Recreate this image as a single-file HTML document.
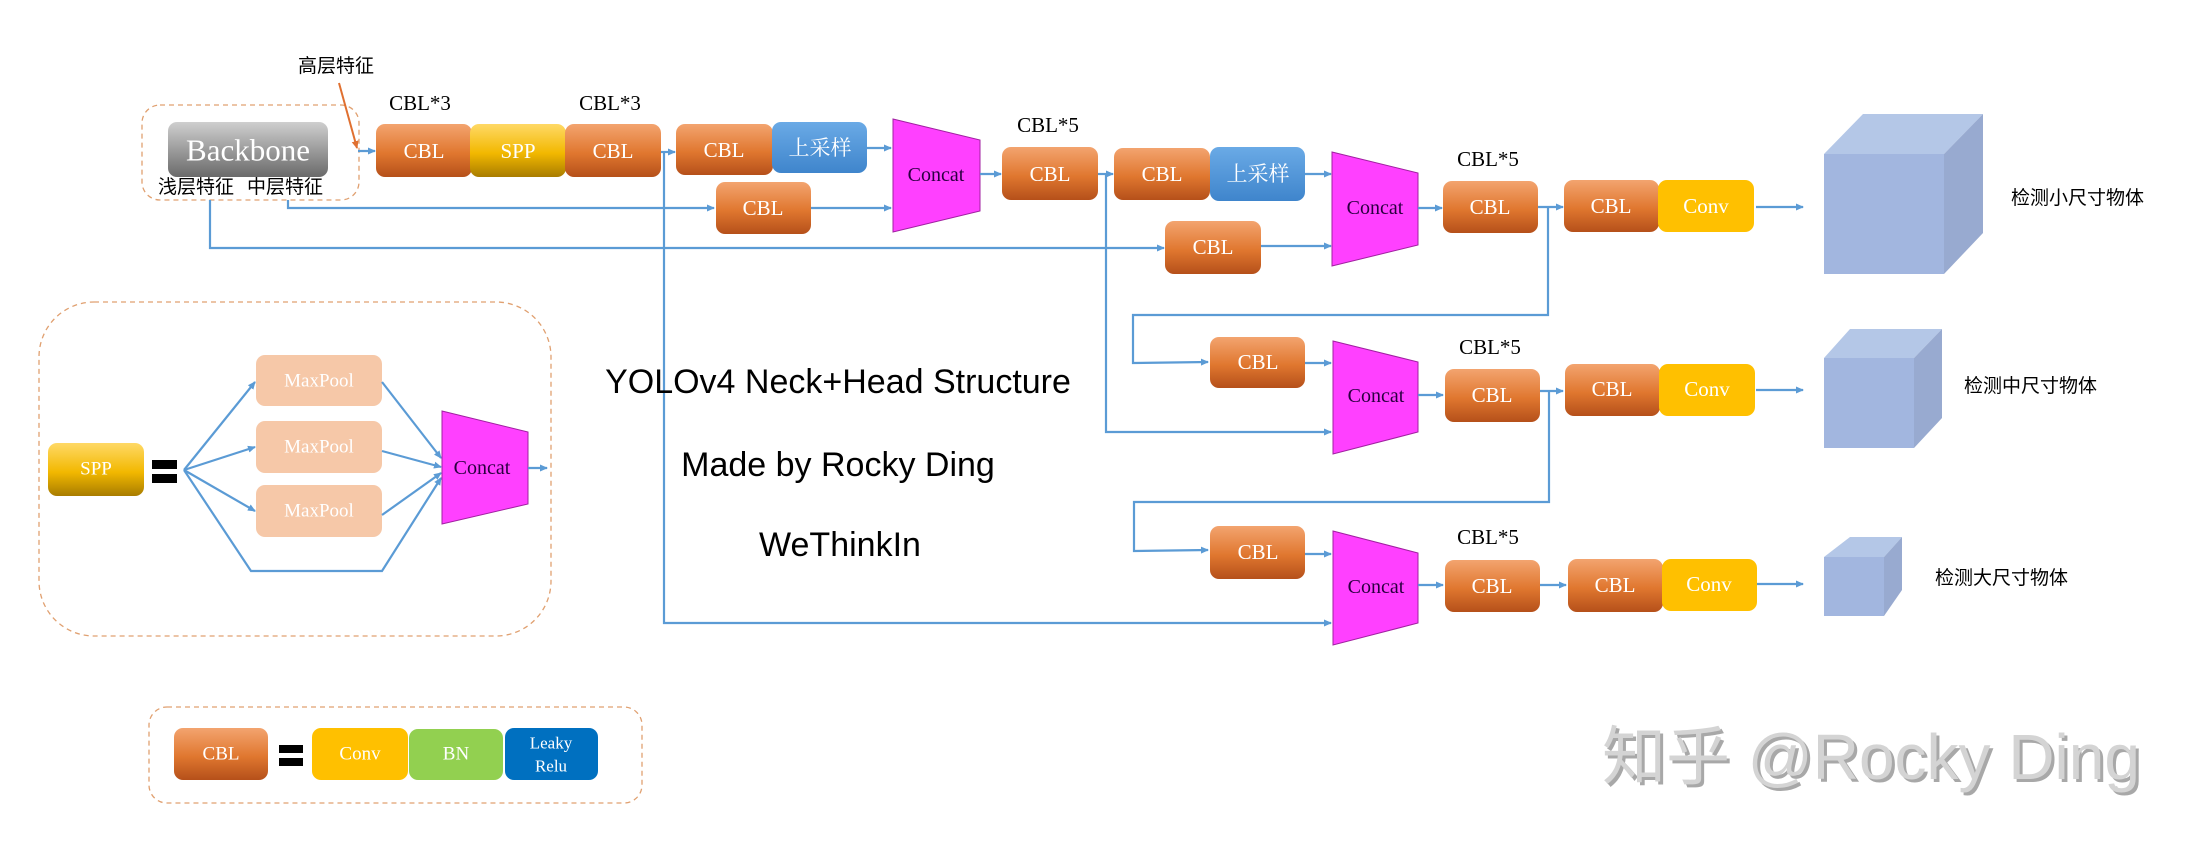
<!DOCTYPE html>
<html><head><meta charset="utf-8"><style>
html,body{margin:0;padding:0;background:#fff;}
svg{display:block;}
.b{font-family:"Liberation Serif","Noto Serif CJK SC",serif;fill:#fff;text-anchor:middle;dominant-baseline:central;}
.k{font-family:"Liberation Serif",serif;fill:#000;text-anchor:middle;font-size:21px;}
.cn{font-family:"Liberation Sans","Noto Sans CJK SC",sans-serif;fill:#000;font-size:19px;}
.t{font-family:"Liberation Sans",sans-serif;fill:#000;text-anchor:middle;font-size:34px;}
.ln{stroke:#5b9bd5;stroke-width:2.2;fill:none;}
.ar{stroke:#5b9bd5;stroke-width:2.2;fill:none;marker-end:url(#ah);}
.cc{fill:#ff40ff;stroke:#a020a0;stroke-width:1;}
.ct{font-family:"Liberation Serif",serif;fill:#2a0040;text-anchor:middle;dominant-baseline:central;font-size:20px;}
</style></head><body>
<svg width="2208" height="854" viewBox="0 0 2208 854" xmlns="http://www.w3.org/2000/svg">
<defs>
<marker id="ah" markerWidth="8" markerHeight="8" refX="7" refY="4" orient="auto" markerUnits="userSpaceOnUse"><path d="M0,0.5 L8,4 L0,7.5 z" fill="#5b9bd5"/></marker>
<marker id="ao" markerWidth="8" markerHeight="8" refX="7" refY="4" orient="auto" markerUnits="userSpaceOnUse"><path d="M0,0.5 L8,4 L0,7.5 z" fill="#e07030"/></marker>
<linearGradient id="go" x1="0" y1="0" x2="0" y2="1"><stop offset="0" stop-color="#f3a46f"/><stop offset="0.55" stop-color="#e0772f"/><stop offset="1" stop-color="#b5501a"/></linearGradient>
<linearGradient id="gy" x1="0" y1="0" x2="0" y2="1"><stop offset="0" stop-color="#ffd966"/><stop offset="0.55" stop-color="#f2b800"/><stop offset="1" stop-color="#a87c00"/></linearGradient>
<linearGradient id="gg" x1="0" y1="0" x2="0" y2="1"><stop offset="0" stop-color="#cfcfcf"/><stop offset="1" stop-color="#6a6a6a"/></linearGradient>
<linearGradient id="gb" x1="0" y1="0" x2="0" y2="1"><stop offset="0" stop-color="#6aaae6"/><stop offset="1" stop-color="#3f85cc"/></linearGradient>
</defs>

<!-- Backbone -->
<rect x="142" y="105" width="217" height="95" rx="18" fill="none" stroke="#e0a070" stroke-width="1.3" stroke-dasharray="5,4"/>
<rect x="168" y="122" width="160" height="55" rx="9" fill="url(#gg)"/>
<text class="b" x="248" y="150" font-size="31">Backbone</text>
<text class="cn" x="158" y="193">浅层特征</text>
<text class="cn" x="247" y="193">中层特征</text>
<text class="cn" x="298" y="72">高层特征</text>
<line x1="339" y1="83" x2="357" y2="148" stroke="#e07030" stroke-width="2" marker-end="url(#ao)"/>

<!-- row 1 -->
<line class="ar" x1="358" y1="151" x2="375" y2="151"/>
<text class="k" x="420" y="110">CBL*3</text>
<text class="k" x="610" y="110">CBL*3</text>
<rect x="376" y="124" width="96" height="53" rx="9" fill="url(#go)"/><text class="b" x="424" y="151" font-size="21">CBL</text>
<rect x="470" y="124" width="96" height="53" rx="9" fill="url(#gy)"/><text class="b" x="518" y="151" font-size="21">SPP</text>
<rect x="565" y="124" width="96" height="53" rx="9" fill="url(#go)"/><text class="b" x="613" y="151" font-size="21">CBL</text>
<line class="ar" x1="661" y1="152" x2="675" y2="152"/>
<rect x="676" y="124" width="97" height="51" rx="9" fill="url(#go)"/><text class="b" x="724" y="150" font-size="21">CBL</text>
<rect x="772" y="122" width="95" height="51" rx="9" fill="url(#gb)"/><text class="b" x="820" y="148" font-size="21">上采样</text>
<line class="ar" x1="867" y1="148" x2="891" y2="148"/>
<polygon class="cc" points="893,119 980,140 980,211 893,232"/><text class="ct" x="936" y="175">Concat</text>
<rect x="716" y="182" width="95" height="52" rx="9" fill="url(#go)"/><text class="b" x="763" y="208" font-size="21">CBL</text>
<line class="ar" x1="811" y1="208" x2="891" y2="208"/>
<polyline class="ar" points="288,200 288,208 714,208"/>
<polyline class="ar" points="210,200 210,248 1164,248"/>
<line class="ar" x1="980" y1="174" x2="1001" y2="174"/>
<text class="k" x="1048" y="132">CBL*5</text>
<rect x="1002" y="147" width="96" height="53" rx="9" fill="url(#go)"/><text class="b" x="1050" y="174" font-size="21">CBL</text>
<line class="ar" x1="1098" y1="174" x2="1113" y2="174"/>
<rect x="1114" y="148" width="96" height="52" rx="9" fill="url(#go)"/><text class="b" x="1162" y="174" font-size="21">CBL</text>
<rect x="1210" y="147" width="95" height="54" rx="9" fill="url(#gb)"/><text class="b" x="1258" y="174" font-size="21">上采样</text>
<line class="ar" x1="1305" y1="174" x2="1331" y2="174"/>
<rect x="1165" y="221" width="96" height="53" rx="9" fill="url(#go)"/><text class="b" x="1213" y="247" font-size="21">CBL</text>
<line class="ar" x1="1261" y1="246" x2="1331" y2="246"/>
<polygon class="cc" points="1332,152 1418,173 1418,245 1332,266"/><text class="ct" x="1375" y="208">Concat</text>
<line class="ar" x1="1418" y1="208" x2="1442" y2="208"/>
<text class="k" x="1488" y="166">CBL*5</text>
<rect x="1443" y="181" width="95" height="52" rx="9" fill="url(#go)"/><text class="b" x="1490" y="207" font-size="21">CBL</text>
<line class="ar" x1="1538" y1="207" x2="1563" y2="207"/>
<rect x="1564" y="180" width="95" height="52" rx="9" fill="url(#go)"/><text class="b" x="1611" y="206" font-size="21">CBL</text>
<rect x="1658" y="180" width="96" height="52" rx="9" fill="#ffc000"/><text class="b" x="1706" y="206" font-size="21">Conv</text>
<line class="ar" x1="1756" y1="207" x2="1803" y2="207"/>
<polygon points="1824,154 1863,114 1983,114 1944,154" fill="#b4c7e7"/>
<polygon points="1944,154 1983,114 1983,233 1944,274" fill="#98aad0"/>
<rect x="1824" y="154" width="120" height="120" fill="#a2b6df"/>
<text class="cn" x="2011" y="204">检测小尺寸物体</text>

<!-- long vertical lines -->
<polyline class="ar" points="664,152 664,623 1331,623"/>
<polyline class="ar" points="1106,174 1106,432 1331,432"/>
<polyline class="ar" points="1548,207 1548,315 1133,315 1133,363 1208,362"/>

<!-- row 2 -->
<rect x="1210" y="337" width="95" height="51" rx="9" fill="url(#go)"/><text class="b" x="1258" y="362" font-size="21">CBL</text>
<line class="ar" x1="1305" y1="363" x2="1331" y2="363"/>
<polygon class="cc" points="1333,341 1418,362 1418,432 1333,454"/><text class="ct" x="1376" y="396">Concat</text>
<line class="ar" x1="1418" y1="395" x2="1443" y2="395"/>
<text class="k" x="1490" y="354">CBL*5</text>
<rect x="1445" y="369" width="95" height="53" rx="9" fill="url(#go)"/><text class="b" x="1492" y="395" font-size="21">CBL</text>
<line class="ar" x1="1540" y1="391" x2="1563" y2="391"/>
<rect x="1565" y="364" width="95" height="52" rx="9" fill="url(#go)"/><text class="b" x="1612" y="389" font-size="21">CBL</text>
<rect x="1659" y="364" width="96" height="52" rx="9" fill="#ffc000"/><text class="b" x="1707" y="389" font-size="21">Conv</text>
<line class="ar" x1="1756" y1="390" x2="1803" y2="390"/>
<polygon points="1824,358 1850,329 1942,329 1914,358" fill="#b4c7e7"/>
<polygon points="1914,358 1942,329 1942,418 1914,448" fill="#98aad0"/>
<rect x="1824" y="358" width="90" height="90" fill="#a2b6df"/>
<text class="cn" x="1964" y="392">检测中尺寸物体</text>
<polyline class="ar" points="1549,391 1549,502 1134,502 1134,551 1208,550"/>

<!-- row 3 -->
<rect x="1210" y="526" width="95" height="53" rx="9" fill="url(#go)"/><text class="b" x="1258" y="552" font-size="21">CBL</text>
<line class="ar" x1="1305" y1="554" x2="1331" y2="554"/>
<polygon class="cc" points="1333,531 1418,553 1418,623 1333,645"/><text class="ct" x="1376" y="587">Concat</text>
<line class="ar" x1="1418" y1="585" x2="1443" y2="585"/>
<text class="k" x="1488" y="544">CBL*5</text>
<rect x="1445" y="560" width="95" height="52" rx="9" fill="url(#go)"/><text class="b" x="1492" y="586" font-size="21">CBL</text>
<line class="ar" x1="1540" y1="585" x2="1566" y2="585"/>
<rect x="1568" y="559" width="95" height="53" rx="9" fill="url(#go)"/><text class="b" x="1615" y="585" font-size="21">CBL</text>
<rect x="1662" y="559" width="95" height="52" rx="9" fill="#ffc000"/><text class="b" x="1709" y="584" font-size="21">Conv</text>
<line class="ar" x1="1757" y1="584" x2="1803" y2="584"/>
<polygon points="1824,557 1850,537 1902,537 1884,557" fill="#b4c7e7"/>
<polygon points="1884,557 1902,537 1902,590 1884,616" fill="#98aad0"/>
<rect x="1824" y="557" width="60" height="59" fill="#a2b6df"/>
<text class="cn" x="1935" y="584">检测大尺寸物体</text>

<!-- titles -->
<text class="t" x="838" y="393">YOLOv4 Neck+Head Structure</text>
<text class="t" x="838" y="476">Made by Rocky Ding</text>
<text class="t" x="840" y="556">WeThinkIn</text>

<!-- SPP detail -->
<rect x="39" y="302" width="512" height="334" rx="55" fill="none" stroke="#e0a070" stroke-width="1.3" stroke-dasharray="5,4"/>
<rect x="48" y="443" width="96" height="53" rx="9" fill="url(#gy)"/><text class="b" x="96" y="469" font-size="19">SPP</text>
<rect x="152" y="460" width="25" height="9" fill="#000"/><rect x="152" y="474" width="25" height="9" fill="#000"/>
<rect x="256" y="355" width="126" height="51" rx="9" fill="#f6c8a8"/><text class="b" x="319" y="381" font-size="19">MaxPool</text>
<rect x="256" y="421" width="126" height="52" rx="9" fill="#f6c8a8"/><text class="b" x="319" y="447" font-size="19">MaxPool</text>
<rect x="256" y="485" width="126" height="52" rx="9" fill="#f6c8a8"/><text class="b" x="319" y="511" font-size="19">MaxPool</text>
<line class="ar" x1="184" y1="470" x2="255" y2="382"/>
<line class="ar" x1="184" y1="470" x2="255" y2="447"/>
<line class="ar" x1="184" y1="470" x2="255" y2="511"/>
<polyline class="ar" points="184,470 251,571 382,571 441,478"/>
<line class="ar" x1="382" y1="382" x2="441" y2="458"/>
<line class="ar" x1="382" y1="451" x2="441" y2="467"/>
<line class="ar" x1="382" y1="515" x2="441" y2="473"/>
<polygon class="cc" points="442,411 528,432 528,504 442,524"/><text class="ct" x="482" y="468">Concat</text>
<line class="ar" x1="528" y1="468" x2="547" y2="468"/>

<!-- CBL legend -->
<rect x="149" y="707" width="493" height="96" rx="18" fill="none" stroke="#e0a070" stroke-width="1.3" stroke-dasharray="5,4"/>
<rect x="174" y="728" width="94" height="52" rx="9" fill="url(#go)"/><text class="b" x="221" y="754" font-size="19">CBL</text>
<rect x="279" y="745" width="24" height="8" fill="#000"/><rect x="279" y="758" width="24" height="8" fill="#000"/>
<rect x="312" y="728" width="96" height="52" rx="9" fill="#ffc000"/><text class="b" x="360" y="754" font-size="19">Conv</text>
<rect x="409" y="729" width="94" height="51" rx="9" fill="#92d050"/><text class="b" x="456" y="754" font-size="19">BN</text>
<rect x="505" y="728" width="93" height="52" rx="9" fill="#0070c0"/>
<text class="b" x="551" y="743" font-size="17">Leaky</text><text class="b" x="551" y="766" font-size="17">Relu</text>

<!-- watermark -->
<g font-family="Liberation Sans,Noto Sans CJK SC,sans-serif" font-size="64">
<text x="1605" y="782" fill="#a8a8a8">知乎 @Rocky Ding</text>
<text x="1602" y="779" fill="#d4d4d4">知乎 @Rocky Ding</text>
</g>
</svg>
</body></html>
